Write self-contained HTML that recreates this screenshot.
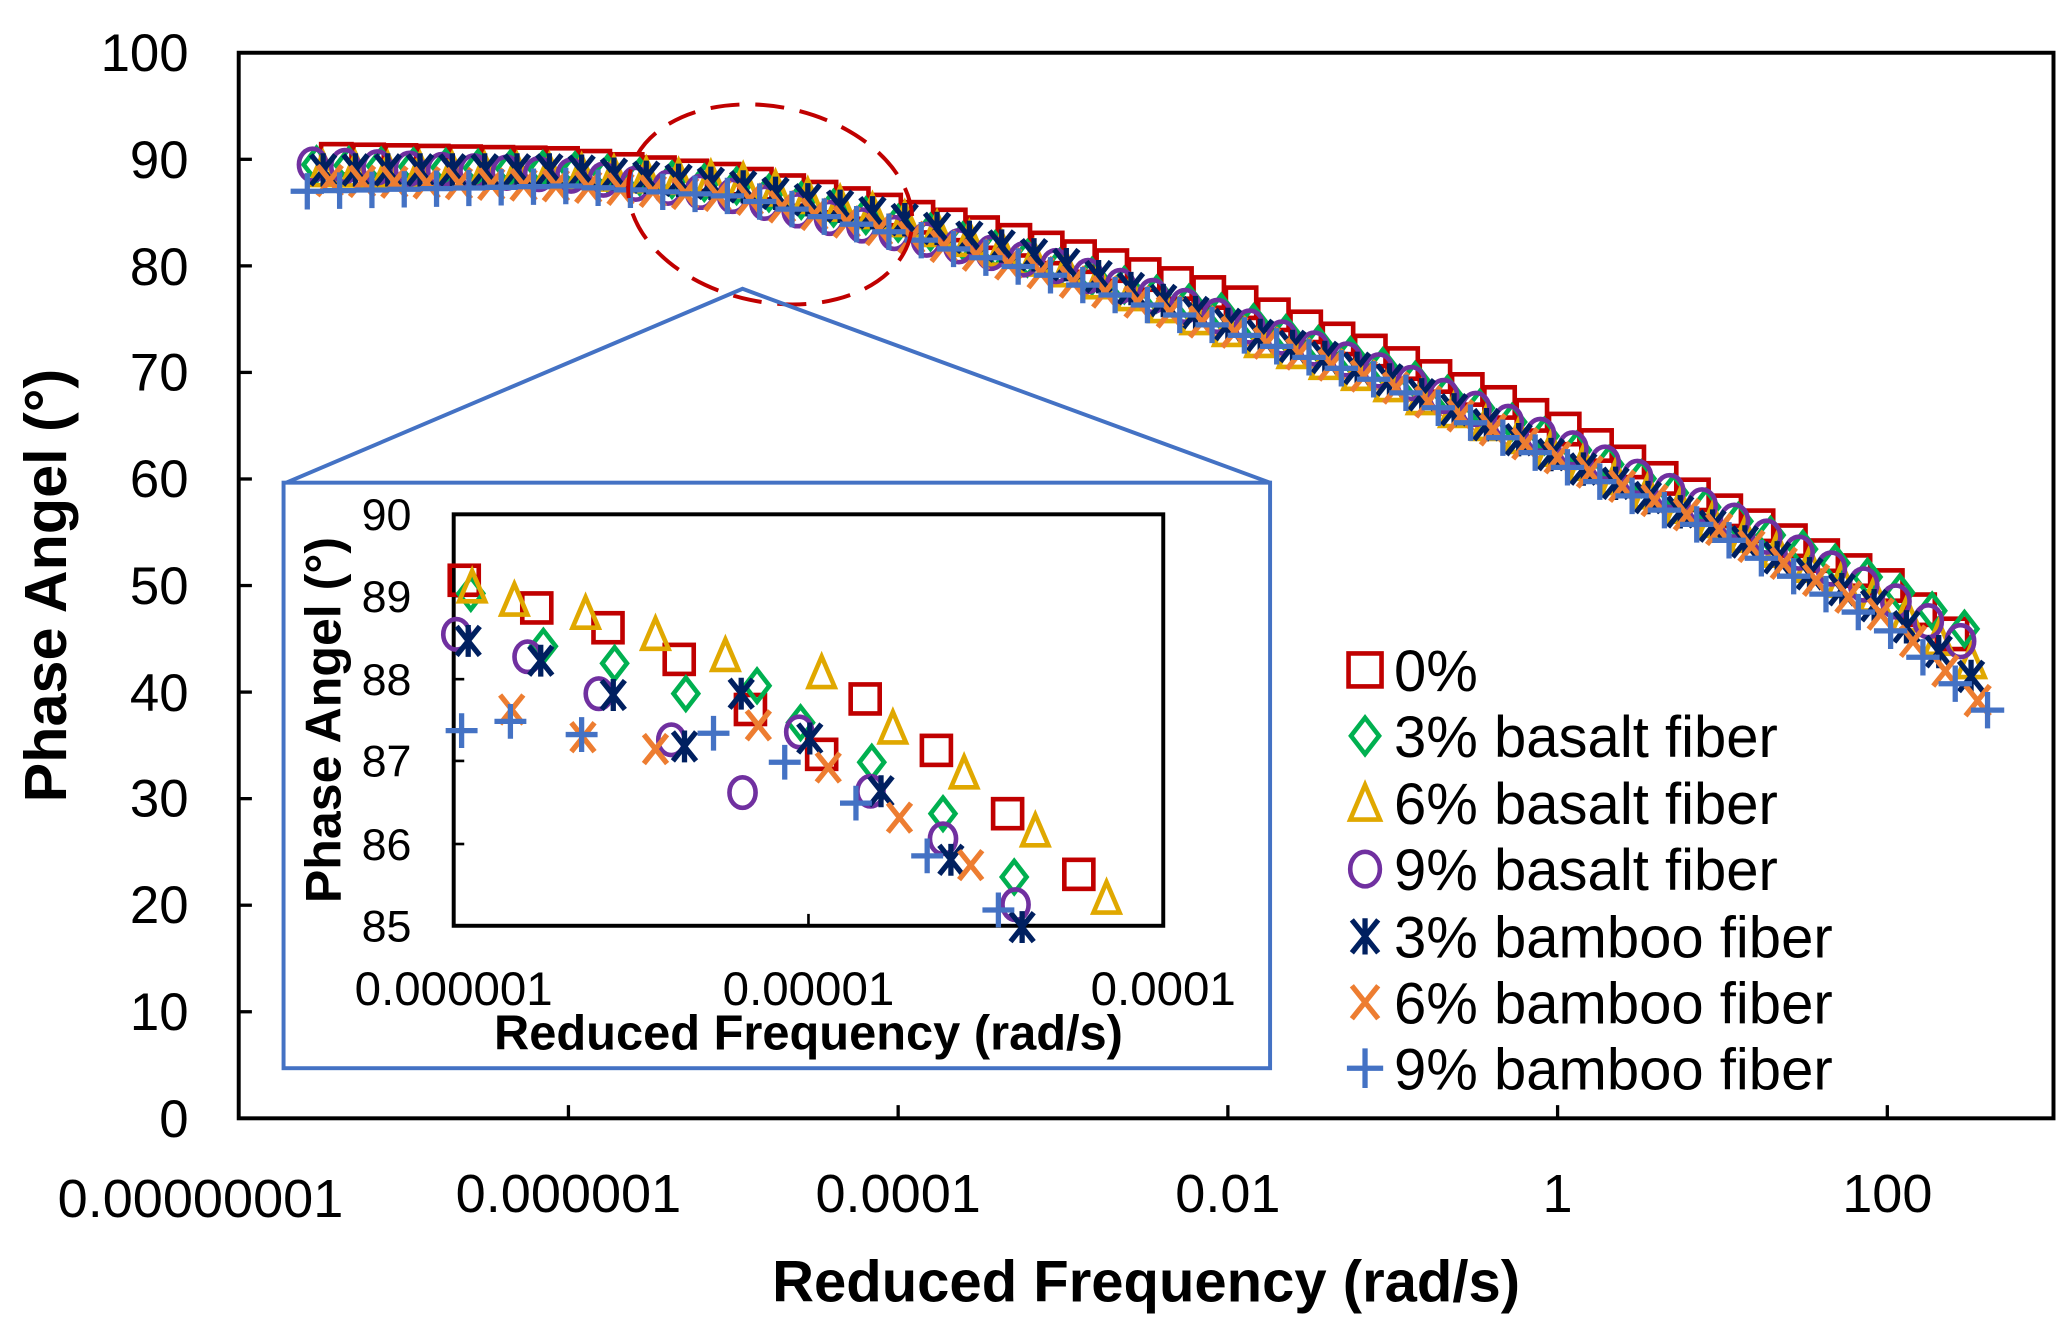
<!DOCTYPE html>
<html><head><meta charset="utf-8"><style>
html,body{margin:0;padding:0;background:#fff;width:2068px;height:1328px;overflow:hidden}
svg{display:block}
text{font-family:"Liberation Sans",Arial,sans-serif}
</style></head><body>
<svg id="s" width="2068" height="1328" viewBox="0 0 1568 1007" preserveAspectRatio="none" xmlns="http://www.w3.org/2000/svg">
<rect width="1568" height="1007" fill="#fff"/>
<g id="main"></g>
<rect x="181" y="40" width="1376" height="808" fill="none" stroke="#000" stroke-width="3"/>
<g id="ticks" stroke="#000" stroke-width="2.5"></g>
<g font-size="40" text-anchor="end" fill="#000">
<text x="143" y="54">100</text><text x="143" y="135">90</text><text x="143" y="216">80</text><text x="143" y="296">70</text><text x="143" y="377">60</text><text x="143" y="458">50</text><text x="143" y="539">40</text><text x="143" y="619">30</text><text x="143" y="700">20</text><text x="143" y="781">10</text><text x="143" y="862">0</text>
</g>
<g font-size="41" text-anchor="middle">
<text x="152" y="923">0.00000001</text><text x="431" y="919">0.000001</text><text x="681" y="919">0.0001</text><text x="931" y="919">0.01</text><text x="1181" y="919">1</text><text x="1431" y="919">100</text>
</g>
<text x="869" y="987" font-size="44" font-weight="bold" text-anchor="middle">Reduced Frequency (rad/s)</text>
<text transform="translate(50,444) rotate(-90)" font-size="45" font-weight="bold" text-anchor="middle">Phase Angel (°)</text>
<ellipse cx="584" cy="155" rx="109" ry="74" transform="rotate(12 584 155)" fill="none" stroke="#c00000" stroke-width="3" stroke-dasharray="22,12"/>
<polyline points="217,366 563,219 963,366" fill="none" stroke="#4472c4" stroke-width="3"/>
<rect x="215" y="366" width="748" height="444" fill="#fff" stroke="#4472c4" stroke-width="3"/>
<rect x="344" y="390" width="538" height="312" fill="none" stroke="#000" stroke-width="3"/>
<g stroke="#000" stroke-width="2"><line x1="613" y1="702" x2="613" y2="693"/><line x1="344" y1="452" x2="352" y2="452"/><line x1="344" y1="515" x2="352" y2="515"/><line x1="344" y1="577" x2="352" y2="577"/><line x1="344" y1="640" x2="352" y2="640"/></g>
<g font-size="34" text-anchor="end"><text x="312" y="402">90</text><text x="312" y="464">89</text><text x="312" y="527">88</text><text x="312" y="589">87</text><text x="312" y="652">86</text><text x="312" y="714">85</text></g>
<g font-size="36" text-anchor="middle"><text x="344" y="762">0.000001</text><text x="613" y="762">0.00001</text><text x="882" y="762">0.0001</text></g>
<text x="613" y="796" font-size="37" font-weight="bold" text-anchor="middle">Reduced Frequency (rad/s)</text>
<text transform="translate(258,546) rotate(-90)" font-size="38" font-weight="bold" text-anchor="middle">Phase Angel (°)</text>
<g id="inset"></g>
<g id="legend"></g>
<g font-size="44"><text x="1057" y="524">0%</text><text x="1057" y="574">3% basalt fiber</text><text x="1057" y="625">6% basalt fiber</text><text x="1057" y="675">9% basalt fiber</text><text x="1057" y="726">3% bamboo fiber</text><text x="1057" y="776">6% bamboo fiber</text><text x="1057" y="826">9% bamboo fiber</text></g>
</svg>
<script>
var NS="http://www.w3.org/2000/svg";
function mk(g,type,x,y,c,s){var e,h=s/2,sw=3.5;
 if(type=="sq"){e=document.createElementNS(NS,"rect");e.setAttribute("x",x-h);e.setAttribute("y",y-h);e.setAttribute("width",s);e.setAttribute("height",s);}
 else if(type=="di"){e=document.createElementNS(NS,"polygon");e.setAttribute("points",[x,y-h*1.1,x+h*0.85,y,x,y+h*1.1,x-h*0.85,y].join(" "));}
 else if(type=="tr"){e=document.createElementNS(NS,"polygon");e.setAttribute("points",[x,y-h*1.1,x+h*0.9,y+h,x-h*0.9,y+h].join(" "));}
 else if(type=="ci"){e=document.createElementNS(NS,"ellipse");e.setAttribute("cx",x);e.setAttribute("cy",y);e.setAttribute("rx",h*0.9);e.setAttribute("ry",h*1.05);}
 else {e=document.createElementNS(NS,"path");var d="";
  if(type=="st"||type=="x"){d+="M"+(x-h*0.8)+" "+(y-h)+"L"+(x+h*0.8)+" "+(y+h)+"M"+(x+h*0.8)+" "+(y-h)+"L"+(x-h*0.8)+" "+(y+h);}
  if(type=="st"){d+="M"+x+" "+(y-h*1.1)+"L"+x+" "+(y+h*1.1);}
  if(type=="pl"){d+="M"+(x-h*1.1)+" "+y+"L"+(x+h*1.1)+" "+y+"M"+x+" "+(y-h*1.2)+"L"+x+" "+(y+h*1.2);}
  e.setAttribute("d",d);sw=4;}
 e.setAttribute("fill","none");e.setAttribute("stroke",c);e.setAttribute("stroke-width",sw);g.appendChild(e);}
var S=[["sq","#c00000",[[255,90],[431,89.6],[560,88],[681,85],[800,81.5],[931,77],[1050,71.5],[1181,65],[1300,57.5],[1431,50],[1485,45]]],
["di","#00b050",[[240,89.5],[431,89],[560,87.5],[681,84],[800,80],[931,75.5],[1050,70.5],[1181,63.5],[1300,57],[1431,50],[1510,44.5]]],
["tr","#e0a800",[[245,89],[431,88.8],[560,88],[681,84.5],[800,80],[931,74],[1050,69],[1181,62.5],[1300,56],[1431,48.5],[1515,41]]],
["ci","#7030a0",[[237,89.5],[431,88.5],[560,86.5],[681,83],[800,80],[931,75],[1050,70],[1181,63.5],[1300,57],[1431,49],[1510,43]]],
["st","#002060",[[245,89],[431,89],[560,87.5],[681,84.5],[800,80.5],[931,74.5],[1050,69.5],[1181,62],[1300,55.5],[1431,47.5],[1510,40]]],
["x","#ed7d31",[[250,88],[431,87.5],[560,86.5],[681,83],[800,79],[931,74],[1050,69],[1181,62],[1300,55.5],[1431,47],[1510,38]]],
["pl","#4472c4",[[233,87],[431,87.5],[560,86.5],[681,83],[800,79],[931,74],[1050,69],[1181,61.5],[1300,55],[1431,46],[1510,38]]]];
var gm=document.getElementById("main");
S.forEach(function(s,k){var p=s[2];var x0=p[0][0],x1=p[p.length-1][0];
 for(var x=x0;x<=x1+0.1;x+=24.5){var i=0;while(i<p.length-2&&x>p[i+1][0])i++;
  var t=(x-p[i][0])/(p[i+1][0]-p[i][0]);var ph=p[i][1]+t*(p[i+1][1]-p[i][1]);
  mk(gm,s[0],x,848-8.08*ph,s[1],23);}});
var tg=document.getElementById("ticks");
function ln(a,b,c,d){var e=document.createElementNS(NS,"line");e.setAttribute("x1",a);e.setAttribute("y1",b);e.setAttribute("x2",c);e.setAttribute("y2",d);tg.appendChild(e);}
[431,681,931,1181,1431].forEach(function(x){ln(x,848,x,838);});
for(var v=10;v<100;v+=10){var y=848-8.08*v;ln(181,y,191,y);}
var I=[["sq","#c00000",[[352,440],[407,461],[461,476],[515,500],[569,538],[623,572],[656,530],[710,569],[764,617],[818,663]]],
["di","#00b050",[[357,450],[412,490],[466,503],[520,526],[574,520],[607,548],[661,578],[715,617],[769,665]]],
["tr","#e0a800",[[358,445],[390,455],[444,465],[497,481],[550,497],[623,510],[677,552],[731,586],[785,630],[839,681]]],
["ci","#7030a0",[[346,481],[400,498],[454,526],[509,561],[563,601],[606,555],[660,600],[715,636],[770,686]]],
["st","#002060",[[355,486],[410,501],[465,527],[519,566],[562,526],[614,560],[668,600],[721,652],[775,703]]],
["x","#ed7d31",[[388,538],[442,559],[497,568],[575,550],[628,582],[682,620],[736,656]]],
["pl","#4472c4",[[350,554],[387,547],[441,557],[541,556],[595,578],[649,609],[703,649],[757,690]]]];
var gi=document.getElementById("inset");
I.forEach(function(s){s[2].forEach(function(p){mk(gi,s[0],p[0],p[1],s[1],22);});});
var gl=document.getElementById("legend");
var ys=[508,558,609,659,710,760,810];
S.forEach(function(s,k){mk(gl,s[0],1035,ys[k],s[1],25);});
</script>
</body></html>
